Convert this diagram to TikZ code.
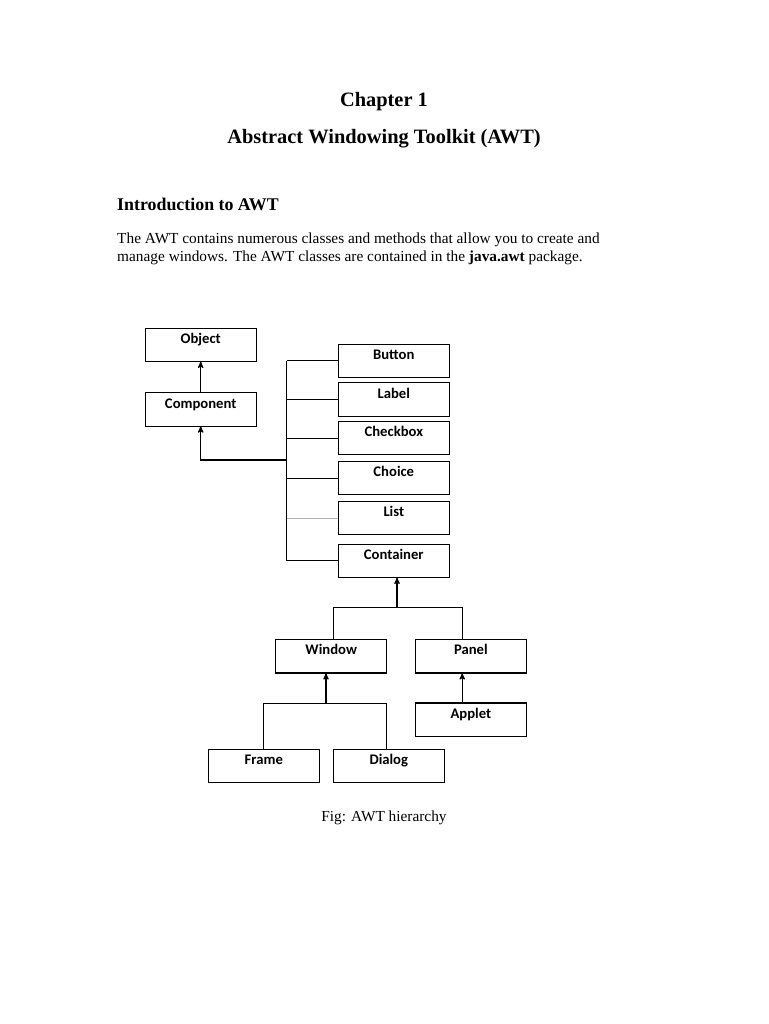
\documentclass[tikz,border=0pt]{standalone}
\usepackage{fontspec}
\setmainfont{Liberation Serif}
\newfontfamily\boksfont{Carlito}
\usepackage{tikz}
\usetikzlibrary{arrows,positioning}
\tikzset{
    %Define standard arrow tip
    >=stealth',
    %Define style for class boxes
    klasse/.style={
           rectangle,
           draw=black, thick,
           minimum width=83.25pt,
           minimum height=25pt,
           inner sep=0pt,
           outer sep=0pt,
           text height=7pt,
           text depth=9pt,
           font=\boksfont\fontsize{11}{13}\selectfont\bfseries,
           text centered},
    %Define style for page text
    tekst/.style={
           anchor=base,
           inner sep=0pt,
           font=\fontsize{11.5}{14}\selectfont},
    overskrift/.style={
           anchor=base,
           inner sep=0pt,
           font=\fontsize{15.3}{18}\selectfont\bfseries},
    ingress/.style={
           anchor=base west,
           inner sep=0pt,
           font=\fontsize{13.4}{16}\selectfont\bfseries},
    % Define arrow style
    pil/.style={
           ->,
           thick},
}

\begin{document}
\begin{tikzpicture}[x=0.75pt,y=-0.75pt,thick,node distance=5pt]
\path[fill=white,use as bounding box] (0,0) rectangle (768,1024);

 %text
\node[overskrift](kapittel) at (384,106.7){Chapter 1};
\node[overskrift](tittel) at (384,143){Abstract Windowing Toolkit (AWT)};
\node[ingress](intro) at (116.7,210){Introduction to AWT};
\node[tekst, anchor=base west](linje1) at (116.7,243.3){The AWT contains numerous classes and methods that allow you to create and};
\node[tekst, anchor=base west](linje2) at (116.7,261.5){manage windows. The AWT classes are contained in the \textbf{java.awt} package.};
\node[tekst](figtekst) at (384,821){Fig: AWT hierarchy};

 %nodes
\node[klasse](object) at (200.7,344.7){Object};
\node[klasse, below=23.5pt of object](component){Component};

\node[klasse](button) at (393.8,360.7){Button};
\node[klasse, below=4pt of button](label){Label};
\node[klasse, below=4pt of label](checkbox){Checkbox};
\node[klasse, below=5pt of checkbox](choice){Choice};
\node[klasse, below=5pt of choice](list){List};
\node[klasse, below=7pt of list](container){Container};

\node[klasse](window) at (331.2,656.3){Window};
\node[klasse, right=21.5pt of window](panel){Panel};
\node[klasse, below=22.5pt of panel](applet){Applet};

\node[klasse](frame) at (263.8,765.8){Frame};
\node[klasse, right=10.5pt of frame](dialog){Dialog};

 %connectors
\coordinate (bus) at (286.7,460);
\coordinate (cjoin) at (397,607.3);
\coordinate (wjoin) at (326,703.3);

\draw[pil] (component) -- (object);
\draw (bus |- button) -- (bus |- container);
\foreach \n in {button,label,checkbox,choice,container}
    \draw (bus |- \n) -- (\n);
\draw[gray!60, thin] (bus |- list) -- (list);
\draw[pil] (bus) -| (component);

\draw[pil] (cjoin) -- (cjoin |- container.south);
\draw ([xshift=1.6pt]window.north) |- (cjoin) -| ([xshift=-6.5pt]panel.north);

\draw[pil] (wjoin) -- (wjoin |- window.south);
\draw (frame) |- (wjoin) -| ([xshift=-1.6pt]dialog.north);

\draw[pil] ([xshift=-6.5pt]applet.north) -- ([xshift=-6.5pt]panel.south);
\end{tikzpicture}
\end{document}
